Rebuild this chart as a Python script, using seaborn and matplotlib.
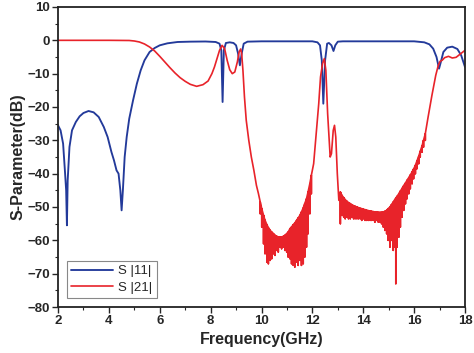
import numpy as np
import pandas as pd
import matplotlib
matplotlib.use("Agg")
import matplotlib.pyplot as plt
import seaborn as sns
from matplotlib.ticker import MultipleLocator

# S11 (blue)
s11_freq = [2.0, 2.1, 2.2, 2.27, 2.32, 2.35, 2.38, 2.45, 2.55, 2.7, 2.85, 3.0, 3.2, 3.4,
            3.6, 3.8, 3.95, 4.1, 4.2, 4.3, 4.38, 4.45, 4.5, 4.55, 4.62, 4.7, 4.8, 4.95,
            5.1, 5.25, 5.4, 5.6, 5.8, 6.0, 6.3, 6.7, 7.2, 7.8, 8.2, 8.35, 8.42, 8.47,
            8.52, 8.6, 8.75, 8.9, 9.0, 9.08, 9.15, 9.22, 9.3, 9.45, 10.0, 12.0, 12.2,
            12.3, 12.37, 12.43, 12.5, 12.58, 12.65, 12.75, 12.83, 12.9, 13.0, 13.2,
            16.0, 16.4, 16.6, 16.75, 16.88, 16.98, 17.05, 17.15, 17.3, 17.5, 17.7,
            17.85, 18.0]
s11_db = [-25.5, -27, -31, -39, -45, -55.5, -42, -32, -27, -24.5, -22.8, -21.8, -21.2, -21.6,
          -23, -26, -29, -33.5, -36, -39, -40, -45, -51, -45, -35, -29, -23.5, -18,
          -13, -9, -6, -3.5, -2.3, -1.5, -0.9, -0.5, -0.4, -0.35, -0.5, -1.0, -3, -18.5,
          -3, -0.8, -0.6, -0.8, -1.5, -4, -7.5, -4, -1, -0.4, -0.3, -0.3, -0.6,
          -1.5, -6, -19, -6, -1, -0.8, -1.5, -3.2, -1.5, -0.4, -0.3,
          -0.3, -0.6, -1.2, -2.5, -5, -8.5, -6.5, -3.5, -2.2, -1.9, -2.6,
          -4.5, -8]

# S21 (red): smooth lead-in up to the first stop band
s21_lead_freq = [2.0, 3.0, 4.0, 4.8, 5.0, 5.2, 5.4, 5.6, 5.8, 6.0, 6.2, 6.4, 6.6, 6.8,
                 7.0, 7.2, 7.45, 7.7, 7.9, 8.05, 8.15, 8.25, 8.35, 8.45, 8.55, 8.65,
                 8.75, 8.85, 8.95, 9.05, 9.12, 9.18, 9.22, 9.27, 9.33, 9.4, 9.5, 9.6, 9.7,
                 9.8, 9.88]
s21_lead_db = [0, 0, 0, -0.05, -0.2, -0.5, -1.1, -2.0, -3.2, -4.8, -6.5, -8.2, -9.8, -11.2,
               -12.3, -13.2, -13.8, -13.3, -12.2, -10.0, -8.0, -5.5, -3.0, -1.5, -2.5, -6.0,
               -8.8, -10.0, -9.5, -6.5, -3.5, -2.6, -4, -9, -17, -24, -30, -35, -39,
               -43.5, -46]

# first stop band ripple: spike positions, envelope top, spike bottom
comb1_freq = [9.95, 10.01, 10.08, 10.14, 10.21, 10.27, 10.34, 10.40, 10.47, 10.53,
              10.60, 10.66, 10.73, 10.79, 10.86, 10.92, 10.99, 11.05, 11.12, 11.18,
              11.25, 11.31, 11.38, 11.44, 11.51, 11.57, 11.64, 11.70, 11.77, 11.83,
              11.90, 11.96]
comb1_top = [-48.5, -50.5, -52.5, -54, -55.3, -56.2, -57, -57.5, -58, -58.5,
             -58.8, -59, -59, -59, -58.8, -58.5, -58, -57.5, -56.5, -56,
             -55.3, -54.8, -54, -53.3, -52.5, -51.5, -50.3, -49, -47.5, -45.5,
             -43, -40.5]
comb1_bottom = [-52, -56, -61, -64, -66.5, -67, -66, -65.5, -64, -64.5,
                -63, -63.5, -62, -62.5, -62, -63, -63.5, -65, -65.5, -67,
                -67.5, -68, -66.5, -67.5, -66, -67.5, -67, -65, -62, -58,
                -52, -46]

# pass band around 12.5 GHz
s21_mid_freq = [12.05, 12.15, 12.25, 12.32, 12.4, 12.47, 12.53, 12.6, 12.7, 12.75,
                12.82, 12.87, 12.92, 12.98, 13.04]
s21_mid_db = [-37, -28, -19, -11, -7, -5.5, -9, -22, -35, -34,
              -27, -25.5, -29, -40, -48]

# second stop band ripple
comb2_freq = [13.10, 13.16, 13.23, 13.29, 13.36, 13.42, 13.49, 13.55, 13.62, 13.68,
              13.75, 13.81, 13.88, 13.94, 14.01, 14.07, 14.14, 14.20, 14.27, 14.33,
              14.40, 14.46, 14.53, 14.59, 14.66, 14.72, 14.79, 14.85, 14.92, 14.98,
              15.05, 15.11, 15.18, 15.24, 15.28, 15.33, 15.40, 15.46, 15.53, 15.59,
              15.66, 15.72, 15.79, 15.85, 15.92, 15.98, 16.05, 16.11, 16.18, 16.24,
              16.31, 16.37, 16.44]
comb2_top = [-45.5, -46.5, -47.2, -47.8, -48.3, -48.7, -49, -49.3, -49.6, -49.8,
             -50, -50.2, -50.4, -50.5, -50.7, -50.8, -51, -51.1, -51.2, -51.3,
             -51.4, -51.5, -51.5, -51.6, -51.6, -51.6, -51.5, -51.3, -51, -50.5,
             -50, -49.3, -48.5, -47.8, -47.3, -46.8, -46, -45.2, -44.4, -43.6,
             -42.8, -42, -41.2, -40.4, -39.5, -38.6, -37.5, -36.2, -34.8, -33.3,
             -31.7, -30, -28]
comb2_bottom = [-55, -52.5, -53, -53.5, -53, -53.5, -53.5, -53, -53.5, -53.5,
                -53.5, -53.5, -53.5, -54, -53.5, -54, -54, -54, -54, -54,
                -54, -54.5, -54, -54.5, -54.5, -55, -56, -57, -58, -60,
                -62, -60, -63, -62, -73, -62, -59, -56, -53, -51,
                -49, -47.5, -46, -44.5, -43, -41.5, -40, -38.5, -37, -35,
                -33.5, -32, -30]

# upper edge to 18 GHz
s21_tail_freq = [16.55, 16.7, 16.85, 16.95, 17.02, 17.1, 17.2, 17.35, 17.5, 17.65,
                 17.8, 17.9, 18.0]
s21_tail_db = [-23, -16.5, -10.5, -7.5, -6.3, -6.0, -5.2, -4.8, -5.3, -5.1,
               -4.2, -3.6, -3.0]


def comb(freq, top, bottom):
    xs, ys = [], []
    for f, t, b in zip(freq, top, bottom):
        xs += [f, f, f]
        ys += [t, b, t]
    return xs, ys


c1x, c1y = comb(comb1_freq, comb1_top, comb1_bottom)
c2x, c2y = comb(comb2_freq, comb2_top, comb2_bottom)
s21_freq = s21_lead_freq + c1x + s21_mid_freq + c2x + s21_tail_freq
s21_db = s21_lead_db + c1y + s21_mid_db + c2y + s21_tail_db

sns.set_style("ticks")
plt.rcParams['font.family'] = ['Liberation Sans', 'DejaVu Sans']

fig = plt.figure(figsize=(4.74, 3.53), dpi=100)
ax = fig.add_axes([0.1224, 0.1303, 0.8586, 0.8499])

sns.lineplot(x=s11_freq, y=s11_db, sort=False, estimator=None, color='#233a9a',
             linewidth=1.35, label='S |11|', ax=ax)
sns.lineplot(x=s21_freq, y=s21_db, sort=False, estimator=None, color='#e8232a',
             linewidth=1.2, label='S |21|', ax=ax)

ax.set_xlim(2, 18)
ax.set_ylim(-80, 10)
ax.xaxis.set_major_locator(MultipleLocator(2))
ax.xaxis.set_minor_locator(MultipleLocator(1))
ax.yaxis.set_major_locator(MultipleLocator(10))
ax.yaxis.set_minor_locator(MultipleLocator(5))
ax.tick_params(which='major', direction='out', length=4, width=1.0, labelsize=9.5,
               pad=2, top=False, right=False)
ax.tick_params(which='minor', direction='out', length=2, width=0.8, top=False, right=False)
for lab in ax.get_xticklabels() + ax.get_yticklabels():
    lab.set_fontweight('bold')
for sp in ax.spines.values():
    sp.set_visible(True)
    sp.set_linewidth(1.3)
    sp.set_color('#222222')

ax.set_xlabel('Frequency(GHz)', fontsize=11.5, fontweight='bold', labelpad=3)
ax.set_ylabel('S-Parameter(dB)', fontsize=11.5, fontweight='bold', labelpad=1)

leg = ax.legend(loc='lower left', bbox_to_anchor=(0.022, 0.03), fontsize=9.5,
                frameon=True, fancybox=False, framealpha=1, edgecolor='#888888',
                handlelength=3.2, handletextpad=0.4, borderpad=0.3, labelspacing=0.35,
                borderaxespad=0)
leg.get_frame().set_linewidth(0.8)

fig.savefig('out.png', dpi=100)
